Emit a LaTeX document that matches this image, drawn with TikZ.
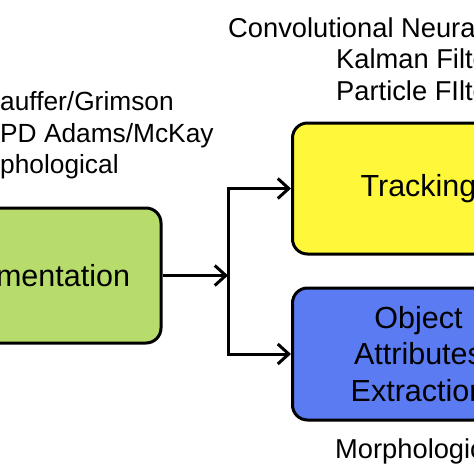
\documentclass[tikz,border=0pt]{standalone}
\usepackage{fontspec}
\setmainfont{Liberation Sans}
\usetikzlibrary{arrows.meta}
\definecolor{boxgreen}{HTML}{B8DC6B}
\definecolor{boxyellow}{HTML}{FFF83A}
\definecolor{boxblue}{HTML}{5A7BF2}
\tikzset{
  stagebox/.style={draw=black, line width=3pt, rounded corners=15pt, rectangle, inner sep=0pt, font=\fontsize{30.5}{36.5}\selectfont, align=center},
  note/.style={inner sep=0pt, font=\fontsize{26.3}{31.5}\selectfont},
  topnote/.style={inner sep=0pt, font=\fontsize{27.3}{31.5}\selectfont},
  flow/.style={line width=3pt, -{Straight Barb[length=11pt,width=20pt,line width=3pt]}},
}
\begin{document}
\begin{tikzpicture}[x=1pt,y=-1pt]
\useasboundingbox (0,0) rectangle (474,474);
\clip (0,0) rectangle (474,474);
\fill[white] (0,0) rectangle (474,474);
% boxes
\node[stagebox, fill=boxgreen, minimum width=244pt, minimum height=135pt, text width=182pt, align=right] (seg) at (39,275.5) {mentation};
\node[stagebox, fill=boxyellow, minimum width=252pt, minimum height=131pt] (track) at (418.5,188.5) {Tracking};
\node[stagebox, fill=boxblue, minimum width=252pt, minimum height=132pt] (attr) at (418.5,354) {Object\\Attributes\\Extraction};
% junction
\coordinate (j) at (228,275.5);
\draw[flow] (seg.east) -- (j);
\draw[flow] (j) |- (track.west);
\draw[flow] (j) |- (attr.west);
% notes
\node[note, anchor=base west] (l1) at (0,110) {auffer/Grimson};
\node[note, anchor=base west] (l2) at (0,142) {PD Adams/McKay};
\node[note, anchor=base west] (l3) at (0,173) {phological};
\node[topnote, anchor=base west] (t1) at (228,37) {Convolutional Neural};
\node[topnote, anchor=base west] (t2) at (336,68) {Kalman Filter};
\node[topnote, anchor=base west] (t3) at (336,100) {Particle FIlter};
\node[topnote, anchor=base west] (b1) at (335,458) {Morphological};
\end{tikzpicture}
\end{document}
